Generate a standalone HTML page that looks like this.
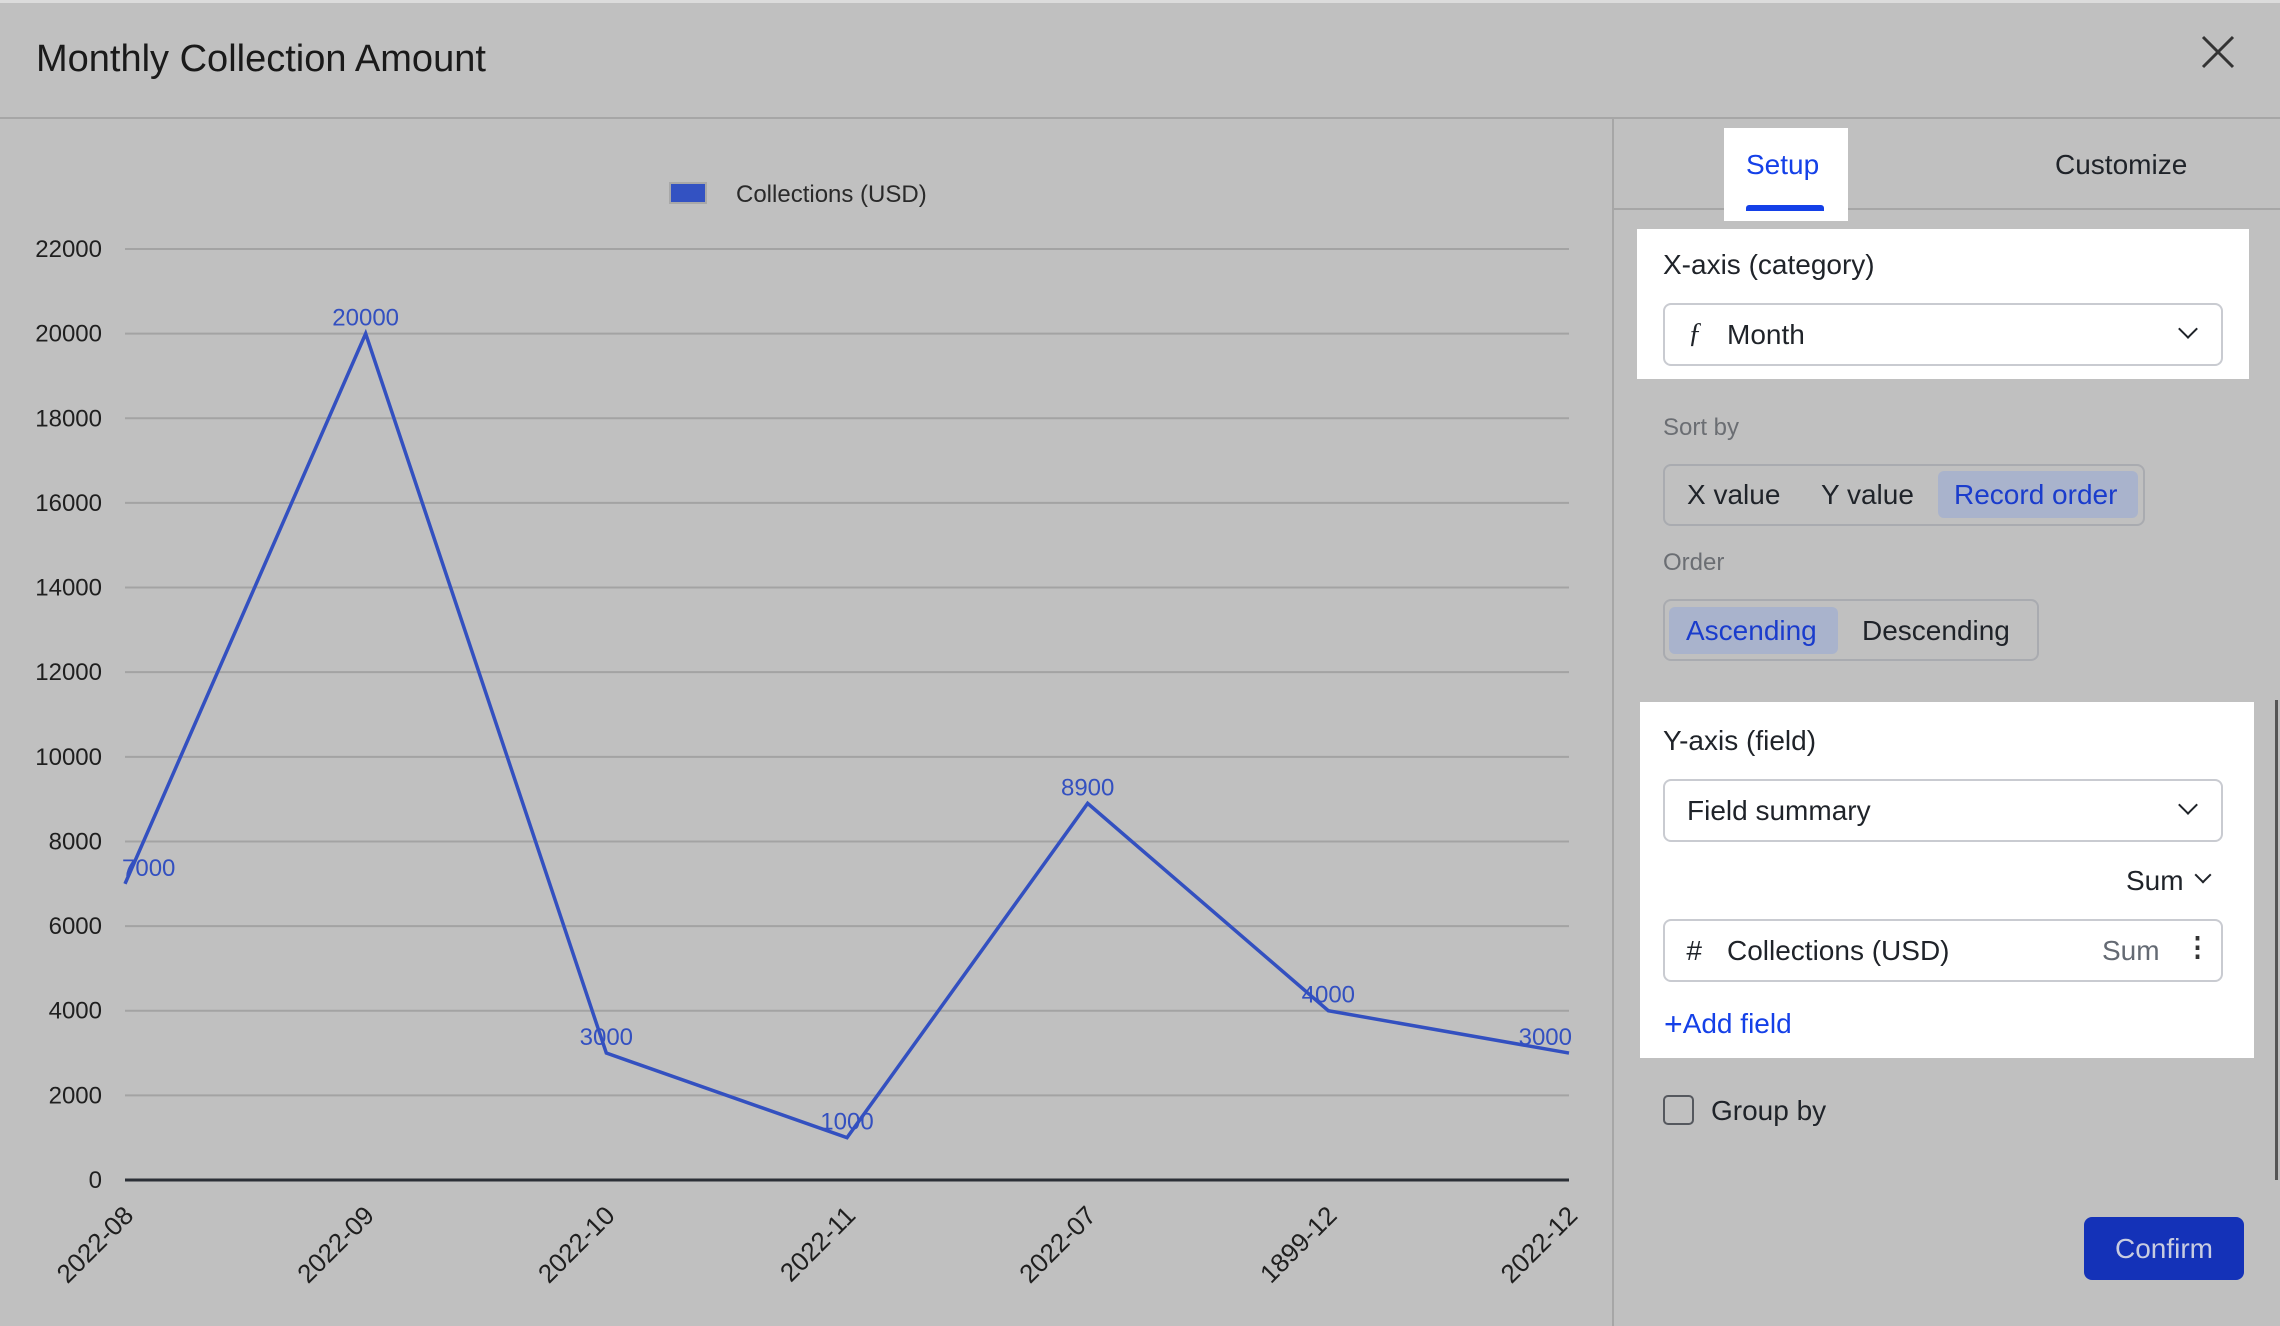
<!DOCTYPE html>
<html><head><meta charset="utf-8"><style>
*{box-sizing:border-box;margin:0;padding:0}
body{width:2280px;height:1326px;background:#c0c0c0;font-family:"Liberation Sans",sans-serif;color:#1f2329;position:relative;overflow:hidden}
.abs{position:absolute}
.t{position:absolute;white-space:nowrap;line-height:1}
.box{position:absolute;background:#fff}
.sel{position:absolute;border:2px solid #c9cbd1;border-radius:8px;background:#fff}
.chev{position:absolute;width:14px;height:14px;border-right:2.5px solid #1f2329;border-bottom:2.5px solid #1f2329;transform:rotate(45deg)}
</style></head><body>
<div class="abs" style="left:0;top:0;width:2280px;height:3px;background:#dcdcdc"></div>
<div class="t" style="left:36px;top:40px;font-size:38px;color:#1a1a1a">Monthly Collection Amount</div>
<svg class="abs" style="left:2200px;top:34px" width="36" height="36"><path d="M3 3L33 33M33 3L3 33" stroke="#333" stroke-width="3"/></svg>
<div class="abs" style="left:0;top:117px;width:2280px;height:2px;background:#a6a6a6"></div>
<div class="abs" style="left:1612px;top:118px;width:2px;height:1208px;background:#a6a6a6"></div>

<svg id="chart" class="abs" style="left:0;top:119px" width="1612" height="1207"></svg>

<div class="abs" style="left:1613px;top:208px;width:667px;height:2px;background:#a6a6a6"></div>
<div class="box" style="left:1724px;top:128px;width:124px;height:93px"></div>
<div class="t" style="left:1746px;top:151px;font-size:28px;color:#1440e8">Setup</div>
<div class="abs" style="left:1746px;top:205px;width:78px;height:6px;border-radius:3px 3px 0 0;background:#1440e8"></div>
<div class="t" style="left:2055px;top:151px;font-size:28px;color:#1f2329">Customize</div>

<div class="box" style="left:1637px;top:229px;width:612px;height:150px"></div>
<div class="t" style="left:1663px;top:251px;font-size:28px">X-axis (category)</div>
<div class="sel" style="left:1663px;top:303px;width:560px;height:63px"></div>
<div class="t" style="left:1688px;top:320px;font-size:28px;font-style:italic;font-family:'Liberation Serif',serif">ƒ</div>
<div class="t" style="left:1727px;top:321px;font-size:28px">Month</div>
<div class="chev" style="left:2181px;top:322px"></div>

<div class="t" style="left:1663px;top:416px;font-size:24px;color:#6b6e73">Sort by</div>
<div class="abs" style="left:1663px;top:464px;width:482px;height:62px;border:2px solid #a9abb0;border-radius:8px"></div>
<div class="abs" style="left:1938px;top:471px;width:200px;height:47px;border-radius:6px;background:#a9b3cc"></div>
<div class="t" style="left:1687px;top:481px;font-size:28px">X value</div>
<div class="t" style="left:1821px;top:481px;font-size:28px">Y value</div>
<div class="t" style="left:1954px;top:481px;font-size:28px;color:#1a3ccc">Record order</div>

<div class="t" style="left:1663px;top:551px;font-size:24px;color:#6b6e73">Order</div>
<div class="abs" style="left:1663px;top:599px;width:376px;height:62px;border:2px solid #a9abb0;border-radius:8px"></div>
<div class="abs" style="left:1669px;top:607px;width:169px;height:47px;border-radius:6px;background:#a9b3cc"></div>
<div class="t" style="left:1686px;top:617px;font-size:28px;color:#1a3ccc">Ascending</div>
<div class="t" style="left:1862px;top:617px;font-size:28px">Descending</div>

<div class="box" style="left:1640px;top:702px;width:614px;height:356px"></div>
<div class="t" style="left:1663px;top:727px;font-size:28px">Y-axis (field)</div>
<div class="sel" style="left:1663px;top:779px;width:560px;height:63px"></div>
<div class="t" style="left:1687px;top:797px;font-size:28px">Field summary</div>
<div class="chev" style="left:2181px;top:798px"></div>
<div class="t" style="left:2126px;top:867px;font-size:28px">Sum</div>
<div class="chev" style="left:2197px;top:869px;width:12px;height:12px"></div>
<div class="sel" style="left:1663px;top:919px;width:560px;height:63px"></div>
<div class="t" style="left:1686px;top:937px;font-size:28px;font-style:italic">#</div>
<div class="t" style="left:1727px;top:937px;font-size:28px">Collections (USD)</div>
<div class="t" style="left:2102px;top:937px;font-size:28px;color:#646a73">Sum</div>
<div class="t" style="left:2184px;top:934px;font-size:27px;font-weight:bold;color:#333">⋮</div>
<div class="t" style="left:1664px;top:1006px;font-size:28px;color:#1440e8"><span style="font-size:32px;position:relative;top:2px">+</span>Add field</div>

<div class="abs" style="left:1663px;top:1095px;width:31px;height:30px;border:2px solid #55585e;border-radius:5px"></div>
<div class="t" style="left:1711px;top:1097px;font-size:28px">Group by</div>
<div class="abs" style="left:2275px;top:700px;width:3px;height:480px;background:#555"></div>

<div class="abs" style="left:2084px;top:1217px;width:160px;height:63px;border-radius:8px;background:#1432b8"></div>
<div class="t" style="left:2084px;top:1235px;width:160px;text-align:center;font-size:28px;color:#c8cce0">Confirm</div>

<script>
const categories=["2022-08","2022-09","2022-10","2022-11","2022-07","1899-12","2022-12"];
const values=[7000,20000,3000,1000,8900,4000,3000];
const yTicks=[0,2000,4000,6000,8000,10000,12000,14000,16000,18000,20000,22000];
const seriesName="Collections (USD)";
const NS="http://www.w3.org/2000/svg";
const svg=document.getElementById('chart');
const OY=119;
const x0=125,x1=1569,yBase=1180-OY,yTop=249-OY,yMax=22000;
function xs(i){return x0+(x1-x0)*i/(categories.length-1);}
function ys(v){return yBase-(yBase-yTop)*v/yMax;}
function mk(tag,attrs){const e=document.createElementNS(NS,tag);for(const k in attrs)e.setAttribute(k,attrs[k]);svg.appendChild(e);return e;}
let sw=mk('rect',{x:670,y:182-OY+1,width:36,height:20,fill:'#3352c2',stroke:'#a8a8a8','stroke-width':2});


let lt=mk('text',{x:736,y:201-OY+1,'font-size':24,fill:'#2a2a2a','font-family':'Liberation Sans'});
lt.textContent=seriesName;


yTicks.forEach(v=>{
  const y=ys(v);
  const g=mk('line',{x1:x0,x2:x1,y1:y,y2:y,stroke:v===0?'#2b2f36':'#a3a3a3','stroke-width':v===0?3:2});
  
  
  const t=mk('text',{x:102,y:y+8,'text-anchor':'end','font-size':24,fill:'#1f1f1f','font-family':'Liberation Sans'});
  t.textContent=v;
  
  
});
categories.forEach((c,i)=>{
  const x=xs(i);
  const ax=x+10, ay=1217-OY;
  const t=mk('text',{x:ax,y:ay,'text-anchor':'end','font-size':26,fill:'#1f1f1f','font-family':'Liberation Sans',transform:`rotate(-45 ${ax} ${ay})`});
  t.textContent=c;
  
  
});
const pts=values.map((v,i)=>xs(i)+','+ys(v)).join(' ');
const pl=mk('polyline',{points:pts,fill:'none',stroke:'#3350c0','stroke-width':3.5,'stroke-linejoin':'miter'});


values.forEach((v,i)=>{
  let x=xs(i);
  let anchor='middle';
  if(i===0){anchor='start';x=x-3;}
  if(i===values.length-1){anchor='end';x=x+3;}
  const t=mk('text',{x:x,y:ys(v)-8,'text-anchor':anchor,'font-size':24,fill:'#3350c0','font-family':'Liberation Sans'});
  t.textContent=v;
  
  
});
</script>
</body></html>
